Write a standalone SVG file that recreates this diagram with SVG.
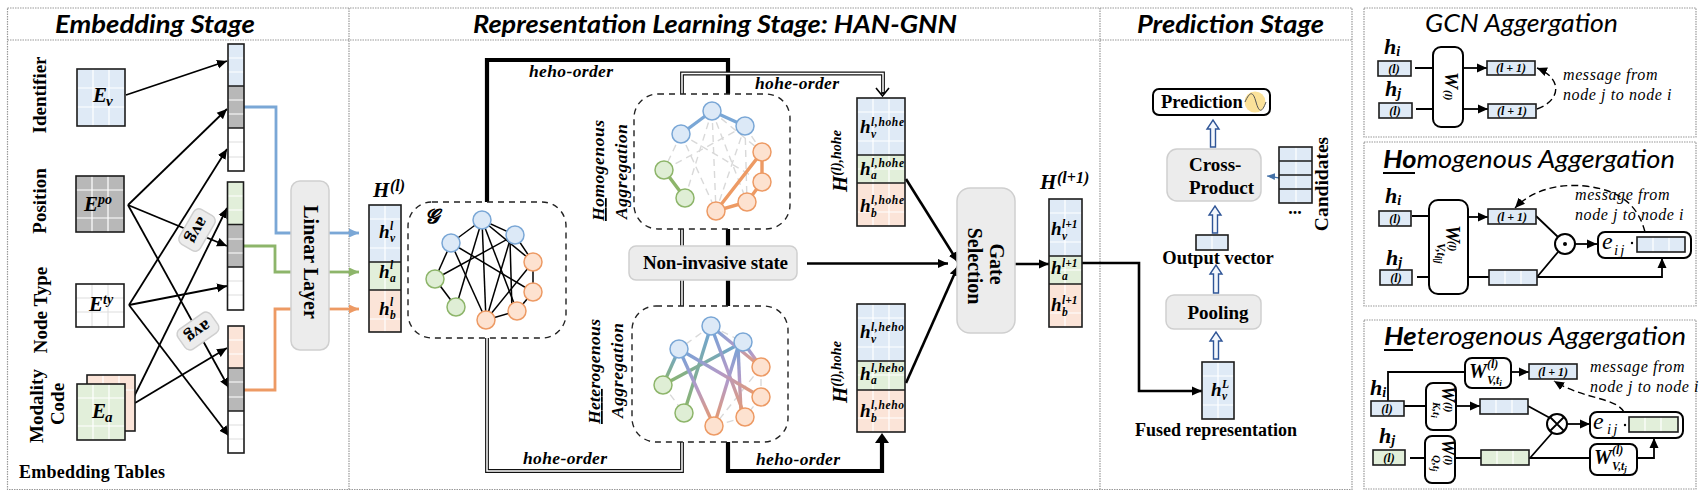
<svg xmlns="http://www.w3.org/2000/svg" width="1704" height="498" viewBox="0 0 1704 498">
<style>
text{font-family:"Liberation Serif",serif;fill:#000}
.t{font-family:Lato,"Open Sans","Liberation Sans",sans-serif;font-style:italic;font-weight:700;font-size:25px}
.ti{font-family:Lato,"Open Sans","Liberation Sans",sans-serif;font-style:italic;font-weight:400;font-size:25px}
.b{font-weight:700;font-size:18px}
.l{font-weight:700;font-size:19px;text-anchor:middle}
.bi{font-weight:700;font-style:italic;font-size:17.5px}
.m{font-weight:700;font-style:italic;font-size:19px}
.hh{font-weight:700;font-style:italic;font-size:22px}
.sp{font-weight:700;font-style:italic;font-size:11.5px}
.i{font-style:italic;font-size:16px;letter-spacing:.6px}
.sm{font-style:italic;font-size:12px;font-weight:700;text-anchor:middle}
.frame{fill:none;stroke:#999;stroke-width:1.2;stroke-dasharray:1.5 1}
.bx{fill:#ececec;stroke:#cfcfcf;stroke-width:1.5}
.dash{fill:#fff;stroke:#222;stroke-width:1.4;stroke-dasharray:6 5}
.blue{fill:#dfeaf6}.green{fill:#e2efda}.peach{fill:#fbe4d8}.gray{fill:#b8b8b8}.white{fill:#fff}
.o{fill:none;stroke:#1c1c1c;stroke-width:1.6}
.gw{fill:none;stroke:#fff;stroke-width:1.2}
.gl{fill:none;stroke:#ddd;stroke-width:1}
.k{fill:none;stroke:#000;stroke-width:1.8}
.k2{fill:none;stroke:#000;stroke-width:2.6}
.k4{fill:none;stroke:#000;stroke-width:4.2}
.d1{fill:none;stroke:#111;stroke-width:3.8}
.d2{fill:none;stroke:#fff;stroke-width:1.5}
.cb{fill:none;stroke:#7aa7d6;stroke-width:2.8}
.cg{fill:none;stroke:#8db56a;stroke-width:2.8}
.co{fill:none;stroke:#ed9a64;stroke-width:2.8}
.nb{fill:#dce9f7;stroke:#7aa7d6;stroke-width:1.5}
.ng{fill:#dfeed5;stroke:#8db56a;stroke-width:1.5}
.no{fill:#fde2d0;stroke:#ed9a64;stroke-width:1.5}
.ge{stroke:#000;stroke-width:1.5}
.gd{stroke:#d9d9d9;stroke-width:1.4;stroke-dasharray:7 5}
.gt{stroke-width:3.4}
.block{fill:#f3f7fc;stroke:#2f5597;stroke-width:1.4}
.wbox{fill:#fff;stroke:#000;stroke-width:2}
.dc{fill:none;stroke:#000;stroke-width:1.4;stroke-dasharray:7 4}
</style>
<defs>
<marker id="a" markerUnits="userSpaceOnUse" markerWidth="11" markerHeight="10" refX="10" refY="5" orient="auto"><path d="M0,0.5L10,5L0,9.5z" fill="#000"/></marker>
<marker id="ab" markerUnits="userSpaceOnUse" markerWidth="11" markerHeight="10" refX="10" refY="5" orient="auto"><path d="M0,0.5L10,5L0,9.5z" fill="#7aa7d6"/></marker>
<marker id="ag" markerUnits="userSpaceOnUse" markerWidth="11" markerHeight="10" refX="10" refY="5" orient="auto"><path d="M0,0.5L10,5L0,9.5z" fill="#8db56a"/></marker>
<marker id="ao" markerUnits="userSpaceOnUse" markerWidth="11" markerHeight="10" refX="10" refY="5" orient="auto"><path d="M0,0.5L10,5L0,9.5z" fill="#ed9a64"/></marker>
<marker id="af" markerUnits="userSpaceOnUse" markerWidth="9" markerHeight="8" refX="8" refY="4" orient="auto"><path d="M0,0.5L8,4L0,7.5z" fill="#4472a8"/></marker>
<linearGradient id="bg"><stop offset="0" stop-color="#6fa3d8"/><stop offset="1" stop-color="#8db56a"/></linearGradient>
<linearGradient id="bo"><stop offset="0" stop-color="#6fa3d8"/><stop offset=".5" stop-color="#b39ac8"/><stop offset="1" stop-color="#ed9a64"/></linearGradient>
<linearGradient id="e1" href="#bg" gradientUnits="userSpaceOnUse" x1="679" y1="349" x2="663" y2="385"/>
<linearGradient id="e2" href="#bg" gradientUnits="userSpaceOnUse" x1="711" y1="326" x2="684" y2="413"/>
<linearGradient id="e3" href="#bg" gradientUnits="userSpaceOnUse" x1="743" y1="342" x2="663" y2="385"/>
<linearGradient id="e4" href="#bo" gradientUnits="userSpaceOnUse" x1="711" y1="326" x2="761" y2="367"/>
<linearGradient id="e5" href="#bo" gradientUnits="userSpaceOnUse" x1="743" y1="342" x2="761" y2="367"/>
<linearGradient id="e6" href="#bo" gradientUnits="userSpaceOnUse" x1="711" y1="326" x2="745" y2="417"/>
<linearGradient id="e7" href="#bo" gradientUnits="userSpaceOnUse" x1="743" y1="342" x2="745" y2="417"/>
<linearGradient id="e8" href="#bo" gradientUnits="userSpaceOnUse" x1="743" y1="342" x2="714" y2="426"/>
<linearGradient id="e9" href="#bo" gradientUnits="userSpaceOnUse" x1="679" y1="349" x2="714" y2="426"/>
<linearGradient id="e10" href="#bo" gradientUnits="userSpaceOnUse" x1="679" y1="349" x2="761" y2="397"/>
</defs>
<rect width="1704" height="498" fill="#fff"/>

<g id="frames">
<path class="frame" d="M7.5,8H1352V489.5H7.5zM7.5,40H1352M349,8V489.5M1100,8V489.5"/>
<rect class="frame" x="1364" y="8" width="332" height="129"/>
<rect class="frame" x="1364" y="142" width="332" height="164"/>
<rect class="frame" x="1364" y="320" width="332" height="169"/>
</g>
<g id="titles">
<text class="t" x="55" y="33" textLength="200" lengthAdjust="spacingAndGlyphs">Embedding Stage</text>
<text class="t" x="473" y="33" textLength="484" lengthAdjust="spacingAndGlyphs">Representation Learning Stage: HAN-GNN</text>
<text class="t" x="1137" y="33" textLength="187" lengthAdjust="spacingAndGlyphs">Prediction Stage</text>
</g>

<g id="connectors">
<path class="k" marker-end="url(#a)" d="M126,95L227,61"/>
<path class="k" marker-end="url(#a)" d="M128,205L227,109"/>
<path class="k" marker-end="url(#a)" d="M128,205L227,246"/>
<path class="k" marker-end="url(#a)" d="M128,205L229,388"/>
<path class="k" marker-end="url(#a)" d="M129,305L227,149"/>
<path class="k" marker-end="url(#a)" d="M129,305L227,286"/>
<path class="k" marker-end="url(#a)" d="M129,305L229,436"/>
<path class="k" marker-end="url(#a)" d="M126,413L227,208"/>
<path class="k" marker-end="url(#a)" d="M135,403L227,348"/>
<path class="cb" d="M244,107H276V233H292"/>
<path class="cb" marker-end="url(#ab)" d="M329,233H359"/>
<path class="cg" d="M243,246H275V272H292"/>
<path class="cg" marker-end="url(#ag)" d="M329,272H359"/>
<path class="co" d="M244,390H275V309H292"/>
<path class="co" marker-end="url(#ao)" d="M329,309H359"/>
<path class="k4" d="M487,202V60H728V94M728,229V246M728,280V306M728,442V471H882V442"/>
<path d="M875,443L882,433L889,443z" fill="#000"/>
<path class="d1" d="M487,338V471H682V442M682,306V280M682,246V229M682,94V73.500H883V94"/>
<path class="d2" d="M487,338V471H682V442M682,306V280M682,246V229M682,94V73.500H883V92"/>
<path d="M876,88L882.500,96L889,88" fill="none" stroke="#000" stroke-width="1.6"/>
<path class="k2" marker-end="url(#a)" d="M807,263.500H948"/>
<path class="k2" marker-end="url(#a)" d="M906,179L958,262"/>
<path class="k2" marker-end="url(#a)" d="M906,383L958,266"/>
<path class="k2" marker-end="url(#a)" d="M1015,264H1049"/>
<path class="k2" marker-end="url(#a)" d="M1082,263H1139V391H1202"/>
<path d="M1296,189C1290,181 1280,177 1267,176" fill="none" stroke="#4472a8" stroke-width="1.2" marker-end="url(#af)"/>
<path class="k" d="M1415,68H1433M1416,109H1433"/>
<path class="k" marker-end="url(#a)" d="M1463,68H1487"/>
<path class="k" marker-end="url(#a)" d="M1463,109H1488"/>
<path class="dc" marker-end="url(#a)" d="M1537,109C1562,100 1562,78 1537,68"/>
<path class="k" d="M1412,216H1429M1417,277H1429M1468,277H1489M1536,216L1558,237M1537,277L1558,252"/>
<path class="k" marker-end="url(#a)" d="M1468,217H1488"/>
<path class="k" marker-end="url(#a)" d="M1575,244H1597"/>
<path class="k" marker-end="url(#a)" d="M1537,277H1662V258"/>
<path class="dc" marker-end="url(#a)" d="M1645,232C1638,205 1620,190 1585,186C1555,183 1530,192 1515,208"/>
<path class="k" d="M1388,401V372H1465M1404,406H1426M1528,406L1550,418M1530,458L1552,433M1410,458H1425M1455,458H1481M1529,458H1590"/>
<path class="k" marker-end="url(#a)" d="M1511,372H1529"/>
<path class="k" marker-end="url(#a)" d="M1456,406H1480"/>
<path class="k" marker-end="url(#a)" d="M1567,424H1590"/>
<path class="k" marker-end="url(#a)" d="M1637,458H1654V438"/>
<path class="dc" marker-end="url(#a)" d="M1624,412C1615,397 1585,400 1554,381"/>
</g>

<g id="node-labels-left">
<text class="l" transform="translate(46,95) rotate(-90)">Identifier</text>
<text class="l" transform="translate(46,201) rotate(-90)">Position</text>
<text class="l" transform="translate(47,310) rotate(-90)">Node Type</text>
<text class="l" transform="translate(43,406) rotate(-90)">Modality</text>
<text class="l" transform="translate(64,404) rotate(-90)">Code</text>
<text class="b" x="19" y="478" textLength="146">Embedding Tables</text>
</g>

<g id="E-v">
<rect class="blue" x="77" y="69" width="48" height="57"/>
<path class="gw" d="M93,69V126M109,69V126M77,88H125M77,107H125"/>
<rect class="o" x="77" y="69" width="48" height="57"/>
<text class="m" x="93" y="102" style="font-size:21px">E</text><text class="m" x="106" y="106" style="font-size:15px">v</text>
</g>
<g id="E-po">
<rect class="gray" x="76" y="176" width="48" height="56"/>
<path class="gw" d="M92,176V232M108,176V232M76,190H124M76,218H124"/>
<rect class="o" x="76" y="176" width="48" height="56"/>
<text class="m" x="84" y="211" style="font-size:21px">E</text><text class="m" x="98" y="204" style="font-size:14px">po</text>
</g>
<g id="E-ty">
<rect class="white" x="76" y="284" width="48" height="43"/>
<path class="gl" d="M92,284V327M108,284V327M76,298H124M76,312H124"/>
<rect class="o" x="76" y="284" width="48" height="43"/>
<text class="m" x="89" y="311" style="font-size:21px">E</text><text class="m" x="103" y="304" style="font-size:14px">ty</text>
</g>
<g id="E-a">
<rect class="peach" x="87" y="375" width="48" height="56"/>
<path class="gw" d="M103,375V431M119,375V431M87,390H135"/>
<rect class="o" x="87" y="375" width="48" height="56"/>
<rect class="green" x="77" y="384" width="48" height="56"/>
<path class="gw" d="M93,384V440M109,384V440M77,398H125M77,426H125"/>
<rect class="o" x="77" y="384" width="48" height="56"/>
<text class="m" x="92" y="418" style="font-size:21px">E</text><text class="m" x="105" y="422" style="font-size:15px">a</text>
</g>
<g id="column-1">
<rect class="blue" x="228" y="44" width="16" height="42"/><rect class="gray" x="228" y="86" width="16" height="42"/><rect class="white" x="228" y="128" width="16" height="43"/>
<path class="gw" d="M228,58H244M228,72H244M228,100H244M228,114H244"/><path class="gl" d="M228,142H244M228,157H244"/>
<rect class="o" x="228" y="44" width="16" height="127"/><path class="o" d="M228,86H244M228,128H244"/>
</g>
<g id="column-2">
<rect class="green" x="227.500" y="182" width="16" height="42"/><rect class="gray" x="227.500" y="225" width="16" height="42"/><rect class="white" x="227.500" y="267" width="16" height="43"/>
<path class="gw" d="M228,196H243M228,210H243M228,239H243M228,253H243"/><path class="gl" d="M228,281H243M228,295H243"/>
<rect class="o" x="227.500" y="182" width="16" height="128"/><path class="o" d="M228,224.500H243M228,267H243"/>
</g>
<g id="column-3">
<rect class="peach" x="228" y="326" width="16" height="42"/><rect class="gray" x="228" y="368" width="16" height="43"/><rect class="white" x="228" y="411" width="16" height="42"/>
<path class="gw" d="M228,340H244M228,354H244M228,382H244M228,397H244"/><path class="gl" d="M228,425H244M228,439H244"/>
<rect class="o" x="228" y="326" width="16" height="127"/><path class="o" d="M228,368H244M228,411H244"/>
</g>
<g id="avg-1"><rect class="bx" x="-20" y="-12" width="40" height="24" rx="6" transform="translate(197,230) rotate(120)"/><text class="b" text-anchor="middle" transform="translate(197,230) rotate(120)" y="5">avg</text></g>
<g id="avg-2"><rect class="bx" x="-20" y="-12" width="40" height="24" rx="6" transform="translate(198,331) rotate(145)"/><text class="b" text-anchor="middle" transform="translate(198,331) rotate(145)" y="5">avg</text></g>
<g id="linear-layer"><rect class="bx" x="291" y="181" width="38" height="169" rx="9"/><text class="b" text-anchor="middle" transform="translate(304,262) rotate(90)" style="font-size:20px">Linear Layer</text></g>

<g id="H-l">
<rect class="blue" x="369" y="205" width="32" height="57"/><rect class="green" x="369" y="262" width="32" height="28"/><rect class="peach" x="369" y="290" width="32" height="42"/>
<path class="gw" d="M385,205V332M369,219H401M369,248H401M369,319H401"/>
<rect class="o" x="369" y="205" width="32" height="127"/><path class="o" d="M369,262H401M369,290H401"/>
<text class="m" x="373" y="197" style="font-size:21px">H</text><text class="b" x="390" y="191" style="font-size:16px;font-style:italic">(l)</text>
<text class="m" x="379" y="238">h</text><text class="sp" x="390" y="230">l</text><text class="sp" x="390" y="242">v</text>
<text class="m" x="379" y="278">h</text><text class="sp" x="390" y="269">l</text><text class="sp" x="390" y="282">a</text>
<text class="m" x="379" y="315">h</text><text class="sp" x="390" y="306">l</text><text class="sp" x="390" y="319">b</text>
</g>

<g id="graph-G">
<rect class="dash" x="408" y="202" width="158" height="136" rx="24"/>
<text class="m" x="425" y="223" style="font-family:'DejaVu Sans','Liberation Serif',serif;font-size:20px">𝓖</text>
<g class="ge">
<line x1="482" y1="220" x2="451" y2="243"/><line x1="482" y1="220" x2="515" y2="235"/><line x1="451" y1="243" x2="435" y2="279"/><line x1="435" y1="279" x2="456" y2="307"/><line x1="515" y1="235" x2="533" y2="262"/><line x1="533" y1="262" x2="533" y2="292"/><line x1="533" y1="292" x2="517" y2="311"/><line x1="517" y1="311" x2="486" y2="320"/><line x1="482" y1="220" x2="456" y2="307"/><line x1="482" y1="220" x2="486" y2="320"/><line x1="482" y1="220" x2="517" y2="311"/><line x1="482" y1="220" x2="533" y2="262"/><line x1="451" y1="243" x2="486" y2="320"/><line x1="451" y1="243" x2="533" y2="292"/><line x1="515" y1="235" x2="435" y2="279"/><line x1="510" y1="240" x2="486" y2="320"/><line x1="510" y1="240" x2="512" y2="311"/><line x1="533" y1="262" x2="486" y2="320"/>
</g>
<circle class="nb" cx="482" cy="220" r="9"/><circle class="nb" cx="451" cy="243" r="9"/><circle class="nb" cx="515" cy="235" r="9"/><circle class="ng" cx="435" cy="279" r="9"/><circle class="ng" cx="456" cy="307" r="9"/><circle class="no" cx="533" cy="262" r="9"/><circle class="no" cx="533" cy="292" r="9"/><circle class="no" cx="517" cy="311" r="9"/><circle class="no" cx="486" cy="320" r="9"/>
</g>

<g id="homogenous">
<rect class="dash" x="634" y="94" width="156" height="135" rx="24"/>
<text class="bi" transform="translate(604,221) rotate(-90)" textLength="101"><tspan text-decoration="underline">Ho</tspan>mogenous</text>
<text class="bi" transform="translate(627,219) rotate(-90)" textLength="95">Aggregation</text>
<g class="gd"><line x1="681" y1="134" x2="664" y2="170"/><line x1="712" y1="111" x2="685" y2="198"/><line x1="712" y1="111" x2="716" y2="211"/><line x1="712" y1="111" x2="747" y2="202"/><line x1="712" y1="111" x2="762" y2="152"/><line x1="681" y1="134" x2="716" y2="211"/><line x1="681" y1="134" x2="762" y2="182"/><line x1="745" y1="126" x2="664" y2="170"/><line x1="745" y1="126" x2="716" y2="211"/><line x1="745" y1="126" x2="747" y2="202"/><line x1="745" y1="126" x2="762" y2="152"/></g>
<g class="gt"><line stroke="#7aa7d6" x1="712" y1="111" x2="681" y2="134"/><line stroke="#7aa7d6" x1="712" y1="111" x2="745" y2="126"/><line stroke="#8db56a" x1="664" y1="170" x2="685" y2="198"/><path stroke="#ed9a64" fill="none" d="M716,211L762,152L762,182L747,202z"/></g>
<circle class="nb" cx="712" cy="111" r="9"/><circle class="nb" cx="681" cy="134" r="9"/><circle class="nb" cx="745" cy="126" r="9"/><circle class="ng" cx="664" cy="170" r="9"/><circle class="ng" cx="685" cy="198" r="9"/><circle class="no" cx="762" cy="152" r="9"/><circle class="no" cx="762" cy="182" r="9"/><circle class="no" cx="747" cy="202" r="9"/><circle class="no" cx="716" cy="211" r="9"/>
</g>

<g id="heterogenous">
<rect class="dash" x="632" y="306" width="156" height="136" rx="24"/>
<text class="bi" transform="translate(600,424) rotate(-90)" textLength="105"><tspan text-decoration="underline">Hete</tspan>rogenous</text>
<text class="bi" transform="translate(623,418) rotate(-90)" textLength="95">Aggregation</text>
<g class="gd"><line x1="711" y1="326" x2="679" y2="349"/><line x1="711" y1="326" x2="743" y2="342"/><line x1="663" y1="385" x2="684" y2="413"/><line x1="761" y1="367" x2="761" y2="397"/><line x1="761" y1="397" x2="745" y2="417"/><line x1="745" y1="417" x2="714" y2="426"/><line x1="761" y1="367" x2="714" y2="426"/></g>
<g class="gt" fill="none">
<line stroke="url(#e1)" x1="679" y1="349" x2="663" y2="385"/><line stroke="url(#e2)" x1="711" y1="326" x2="684" y2="413"/><line stroke="url(#e3)" x1="743" y1="342" x2="663" y2="385"/><line stroke="url(#e4)" x1="711" y1="326" x2="761" y2="367"/><line stroke="url(#e5)" x1="743" y1="342" x2="761" y2="367"/><line stroke="url(#e6)" x1="711" y1="326" x2="745" y2="417"/><line stroke="url(#e7)" x1="738" y1="347" x2="741" y2="412"/><line stroke="url(#e8)" x1="738" y1="347" x2="714" y2="426"/><line stroke="url(#e9)" x1="679" y1="349" x2="714" y2="426"/><line stroke="url(#e10)" x1="679" y1="349" x2="761" y2="397"/>
</g>
<circle class="nb" cx="711" cy="326" r="9"/><circle class="nb" cx="679" cy="349" r="9"/><circle class="nb" cx="743" cy="342" r="9"/><circle class="ng" cx="663" cy="385" r="9"/><circle class="ng" cx="684" cy="413" r="9"/><circle class="no" cx="761" cy="367" r="9"/><circle class="no" cx="761" cy="397" r="9"/><circle class="no" cx="745" cy="417" r="9"/><circle class="no" cx="714" cy="426" r="9"/>
</g>

<g id="non-invasive"><rect class="bx" x="629" y="246" width="168" height="34" rx="7"/><text class="b" x="643" y="269" textLength="145" style="font-size:19px">Non-invasive state</text></g>
<g id="order-labels">
<text class="bi" x="529" y="77" textLength="84">heho-order</text>
<text class="bi" x="755" y="89" textLength="84">hohe-order</text>
<text class="bi" x="523" y="464" textLength="84">hohe-order</text>
<text class="bi" x="756" y="465" textLength="84">heho-order</text>
</g>

<g id="H-hohe">
<rect class="blue" x="857" y="98" width="48" height="57"/><rect class="green" x="857" y="155" width="48" height="28"/><rect class="peach" x="857" y="183" width="48" height="43"/>
<path class="gw" d="M873,98V226M889,98V226M857,112H905M857,141H905M857,169H905M857,212H905"/>
<rect class="o" x="857" y="98" width="48" height="128"/><path class="o" d="M857,155H905M857,183H905"/>
<text class="m" transform="translate(847,192) rotate(-90)" style="font-size:21px">H<tspan dy="-6" style="font-size:14px">(l),hohe</tspan></text>
<text class="m" x="860" y="133">h</text><text class="sp" x="871" y="126" textLength="33">l,hohe</text><text class="sp" x="871" y="138">v</text>
<text class="m" x="860" y="175">h</text><text class="sp" x="871" y="167" textLength="33">l,hohe</text><text class="sp" x="871" y="179">a</text>
<text class="m" x="860" y="212">h</text><text class="sp" x="871" y="204" textLength="33">l,hohe</text><text class="sp" x="871" y="217">b</text>
</g>
<g id="H-heho">
<rect class="blue" x="857" y="304" width="48" height="57"/><rect class="green" x="857" y="361" width="48" height="29"/><rect class="peach" x="857" y="390" width="48" height="42"/>
<path class="gw" d="M873,304V432M889,304V432M857,318H905M857,347H905M857,375H905M857,418H905"/>
<rect class="o" x="857" y="304" width="48" height="128"/><path class="o" d="M857,361H905M857,390H905"/>
<text class="m" transform="translate(847,403) rotate(-90)" style="font-size:21px">H<tspan dy="-6" style="font-size:14px">(l),hohe</tspan></text>
<text class="m" x="860" y="338">h</text><text class="sp" x="871" y="331" textLength="33">l,heho</text><text class="sp" x="871" y="343">v</text>
<text class="m" x="860" y="380">h</text><text class="sp" x="871" y="372" textLength="33">l,heho</text><text class="sp" x="871" y="384">a</text>
<text class="m" x="860" y="417">h</text><text class="sp" x="871" y="409" textLength="33">l,heho</text><text class="sp" x="871" y="422">b</text>
</g>
<g id="gate-selection"><rect class="bx" x="957" y="188" width="58" height="145" rx="13"/>
<text class="b" text-anchor="middle" transform="translate(990,264) rotate(90)" style="font-size:20px">Gate</text>
<text class="b" text-anchor="middle" transform="translate(968,266) rotate(90)" style="font-size:20px">Selection</text></g>
<g id="H-l1">
<rect class="blue" x="1049" y="199" width="33" height="57"/><rect class="green" x="1049" y="256" width="33" height="28"/><rect class="peach" x="1049" y="284" width="33" height="43"/>
<path class="gw" d="M1065,199V327M1049,213H1082M1049,242H1082M1049,270H1082M1049,313H1082"/>
<rect class="o" x="1049" y="199" width="33" height="128"/><path class="o" d="M1049,256H1082M1049,284H1082"/>
<text class="m" x="1040" y="189" style="font-size:21px">H</text><text class="b" x="1057" y="183" style="font-size:16px;font-style:italic">(l+1)</text>
<text class="m" x="1051" y="235">h</text><text class="sp" x="1062" y="228">l+1</text><text class="sp" x="1062" y="240">v</text>
<text class="m" x="1051" y="274">h</text><text class="sp" x="1062" y="267">l+1</text><text class="sp" x="1062" y="280">a</text>
<text class="m" x="1051" y="311">h</text><text class="sp" x="1062" y="304">l+1</text><text class="sp" x="1062" y="316">b</text>
</g>

<g id="fused-representation">
<rect class="blue" x="1202" y="362" width="32" height="57"/>
<path class="gw" d="M1218,362V419M1202,376H1234M1202,405H1234"/>
<rect class="o" x="1202" y="362" width="32" height="57"/>
<text class="m" x="1211" y="396">h</text><text class="sp" x="1222" y="388">L</text><text class="sp" x="1222" y="400">v</text>
<text class="b" x="1216" y="436" text-anchor="middle">Fused representation</text>
</g>
<g id="pooling"><rect class="bx" x="1166" y="295" width="95" height="34" rx="8"/><text class="b" x="1218" y="319" text-anchor="middle" style="font-size:19px">Pooling</text></g>
<g id="output-vector"><rect class="blue" x="1196" y="235" width="32" height="15"/><path class="gw" d="M1212,235V250"/><rect class="o" x="1196" y="235" width="32" height="15"/><text class="b" x="1218" y="264" text-anchor="middle" style="font-size:18.500px">Output vector</text></g>
<g id="cross-product"><rect class="bx" x="1167" y="149" width="94" height="52" rx="10"/><text class="b" x="1189" y="171" style="font-size:19px">Cross-</text><text class="b" x="1189" y="194" style="font-size:19px">Product</text></g>
<g id="prediction"><rect fill="#fff" stroke="#000" stroke-width="2" x="1153" y="89" width="117" height="26" rx="6"/><text class="b" x="1161" y="108" style="font-size:18.500px">Prediction</text><circle cx="1255" cy="102" r="10.500" fill="#fbe29a"/><path d="M1245,102C1250,91 1253,91 1256,102S1262,113 1266,102" fill="none" stroke="#555" stroke-width="1"/></g>
<g id="candidates">
<rect class="blue" x="1279" y="147" width="33" height="56"/><path class="gw" d="M1296,147V203"/>
<rect class="o" x="1279" y="147" width="33" height="56"/><path class="o" d="M1279,161H1312M1279,175H1312M1279,189H1312"/>
<text class="b" x="1295" y="214" text-anchor="middle">...</text>
<text class="b" transform="translate(1328,184) rotate(-90)" text-anchor="middle" style="font-size:19.500px">Candidates</text>
</g>
<path class="block" d="M1210.500,147V129H1207L1213,120L1219,129H1215.500V147z"/>
<path class="block" d="M1212.500,233V215H1209L1215,206L1221,215H1217.500V233z"/>
<path class="block" d="M1213.500,293V274H1210L1216,265L1222,274H1218.500V293z"/>
<path class="block" d="M1213.500,359V341H1210L1216,332L1222,341H1218.500V359z"/>

<g id="gcn-panel">
<text class="ti" x="1425" y="32" textLength="193" lengthAdjust="spacingAndGlyphs">GCN Aggergation</text>
<text class="hh" x="1384" y="54">h<tspan dy="2" style="font-size:14px">i</tspan></text>
<text class="hh" x="1385" y="96">h<tspan dy="2" style="font-size:14px">j</tspan></text>
<rect class="blue" x="1378" y="61" width="33" height="15"/><rect class="o" x="1378" y="61" width="33" height="15"/><text class="sm" x="1394" y="73">(l)</text>
<rect class="blue" x="1379" y="103" width="33" height="15"/><rect class="o" x="1379" y="103" width="33" height="15"/><text class="sm" x="1395" y="115">(l)</text>
<rect class="wbox" x="1433" y="47" width="30" height="80" rx="8"/>
<g transform="translate(1445,72) rotate(90)"><text class="m" style="font-size:19px">W</text><text class="sp" x="18" y="0" style="font-size:11px">(l)</text></g>
<rect class="blue" x="1487" y="61" width="48" height="14"/><rect class="o" x="1487" y="61" width="48" height="14"/><text class="sm" x="1511" y="72">(l + 1)</text>
<rect class="blue" x="1488" y="104" width="48" height="14"/><rect class="o" x="1488" y="104" width="48" height="14"/><text class="sm" x="1512" y="115">(l + 1)</text>
<text class="i" x="1563" y="80">message from</text><text class="i" x="1563" y="100">node j to node i</text>
</g>

<g id="homo-panel">
<text class="ti" x="1383" y="168" textLength="292" lengthAdjust="spacingAndGlyphs"><tspan style="font-weight:700">Ho</tspan>mogenous Aggergation</text>
<path d="M1383,173H1415" stroke="#000" stroke-width="2" fill="none"/>
<text class="hh" x="1385" y="203">h<tspan dy="2" style="font-size:14px">i</tspan></text>
<text class="hh" x="1386" y="265">h<tspan dy="2" style="font-size:14px">j</tspan></text>
<rect class="blue" x="1379" y="211" width="32" height="15"/><rect class="o" x="1379" y="211" width="32" height="15"/><text class="sm" x="1395" y="223">(l)</text>
<rect class="blue" x="1380" y="270" width="32" height="15"/><rect class="o" x="1380" y="270" width="32" height="15"/><text class="sm" x="1396" y="282">(l)</text>
<rect class="wbox" x="1429" y="200" width="39" height="94" rx="9"/>
<g transform="translate(1446,225) rotate(90)"><text class="m" style="font-size:20px">W</text><text class="sp" x="16" y="-3" style="font-size:11px">(l)</text><text class="sp" x="18" y="9" style="font-size:12px">V,t<tspan dy="2" style="font-size:10px">i|j</tspan></text></g>
<rect class="blue" x="1488" y="209" width="48" height="15"/><rect class="o" x="1488" y="209" width="48" height="15"/><text class="sm" x="1512" y="221">(l + 1)</text>
<rect class="blue" x="1489" y="270" width="48" height="15"/><path class="gw" d="M1505,270V285M1521,270V285"/><rect class="o" x="1489" y="270" width="48" height="15"/>
<circle class="wbox" cx="1565" cy="244" r="10"/><circle cx="1565" cy="244" r="2" fill="#000"/>
<rect class="wbox" x="1598" y="232" width="93" height="26" rx="7"/>
<text x="1602" y="249" style="font-size:24px;font-style:italic">e</text><text x="1614" y="255" style="font-size:15px;font-style:italic;letter-spacing:2px">ij</text><circle cx="1632" cy="243" r="1.200" fill="#000"/>
<rect class="blue" x="1637" y="237" width="48" height="15"/><path class="gw" d="M1653,237V252M1669,237V252"/><rect class="o" x="1637" y="237" width="48" height="15"/>
<text class="i" x="1575" y="200">message from</text><text class="i" x="1575" y="220">node j to node i</text>
</g>

<g id="hete-panel">
<text class="ti" x="1384" y="345" textLength="302" lengthAdjust="spacingAndGlyphs"><tspan style="font-weight:700">He</tspan>terogenous Aggergation</text>
<path d="M1384,350H1413" stroke="#000" stroke-width="2" fill="none"/>
<text class="hh" x="1370" y="395">h<tspan dy="2" style="font-size:14px">i</tspan></text>
<text class="hh" x="1379" y="443">h<tspan dy="2" style="font-size:14px">j</tspan></text>
<rect class="blue" x="1371" y="401" width="33" height="15"/><rect class="o" x="1371" y="401" width="33" height="15"/><text class="sm" x="1387" y="413">(l)</text>
<rect class="green" x="1373" y="450" width="32" height="15"/><rect class="o" x="1373" y="450" width="32" height="15"/><text class="sm" x="1389" y="462">(l)</text>
<rect class="wbox" x="1465" y="358" width="46" height="30" rx="7"/>
<text class="m" x="1469" y="378" style="font-size:20px">W</text><text class="sp" x="1487" y="368" style="font-size:12px">(l)</text><text class="sp" x="1487" y="384">V,t<tspan dy="2" style="font-size:9px">i</tspan></text>
<rect class="blue" x="1529" y="364" width="48" height="15"/><rect class="o" x="1529" y="364" width="48" height="15"/><text class="sm" x="1553" y="376">(l + 1)</text>
<text class="i" x="1590" y="372">message from</text><text class="i" x="1590" y="392">node j to node i</text>
<rect class="wbox" x="1426" y="383" width="30" height="47" rx="7"/>
<g transform="translate(1442,386) rotate(90)"><text class="m" style="font-size:18px">W</text><text class="sp" x="16" y="-3" style="font-size:11px">(l)</text><text class="sp" x="16" y="9" style="font-size:11px">K,t<tspan dy="2" style="font-size:9px">i</tspan></text></g>
<rect class="blue" x="1480" y="399" width="48" height="15"/><path class="gw" d="M1496,399V414M1512,399V414"/><rect class="o" x="1480" y="399" width="48" height="15"/>
<circle class="wbox" cx="1557" cy="424" r="10"/><path class="k" d="M1550,417L1564,431M1564,417L1550,431"/>
<rect class="wbox" x="1590" y="412" width="93" height="26" rx="7"/>
<text x="1593" y="429" style="font-size:24px;font-style:italic">e</text><text x="1607" y="434" style="font-size:15px;font-style:italic;letter-spacing:2px">ij</text><circle cx="1625" cy="425" r="1.200" fill="#000"/>
<rect class="green" x="1629" y="417" width="49" height="15"/><path class="gw" d="M1645,417V432M1661,417V432"/><rect class="o" x="1629" y="417" width="49" height="15"/>
<rect class="wbox" x="1425" y="436" width="30" height="47" rx="7"/>
<g transform="translate(1442,439) rotate(90)"><text class="m" style="font-size:18px">W</text><text class="sp" x="16" y="-3" style="font-size:11px">(l)</text><text class="sp" x="16" y="9" style="font-size:11px">Q,t<tspan dy="2" style="font-size:9px">j</tspan></text></g>
<rect class="green" x="1481" y="450" width="48" height="15"/><path class="gw" d="M1497,450V465M1513,450V465"/><rect class="o" x="1481" y="450" width="48" height="15"/>
<rect class="wbox" x="1590" y="444" width="47" height="31" rx="7"/>
<text class="m" x="1594" y="464" style="font-size:20px">W</text><text class="sp" x="1612" y="454" style="font-size:12px">(l)</text><text class="sp" x="1612" y="470">V,t<tspan dy="2" style="font-size:9px">j</tspan></text>
</g>
</svg>
